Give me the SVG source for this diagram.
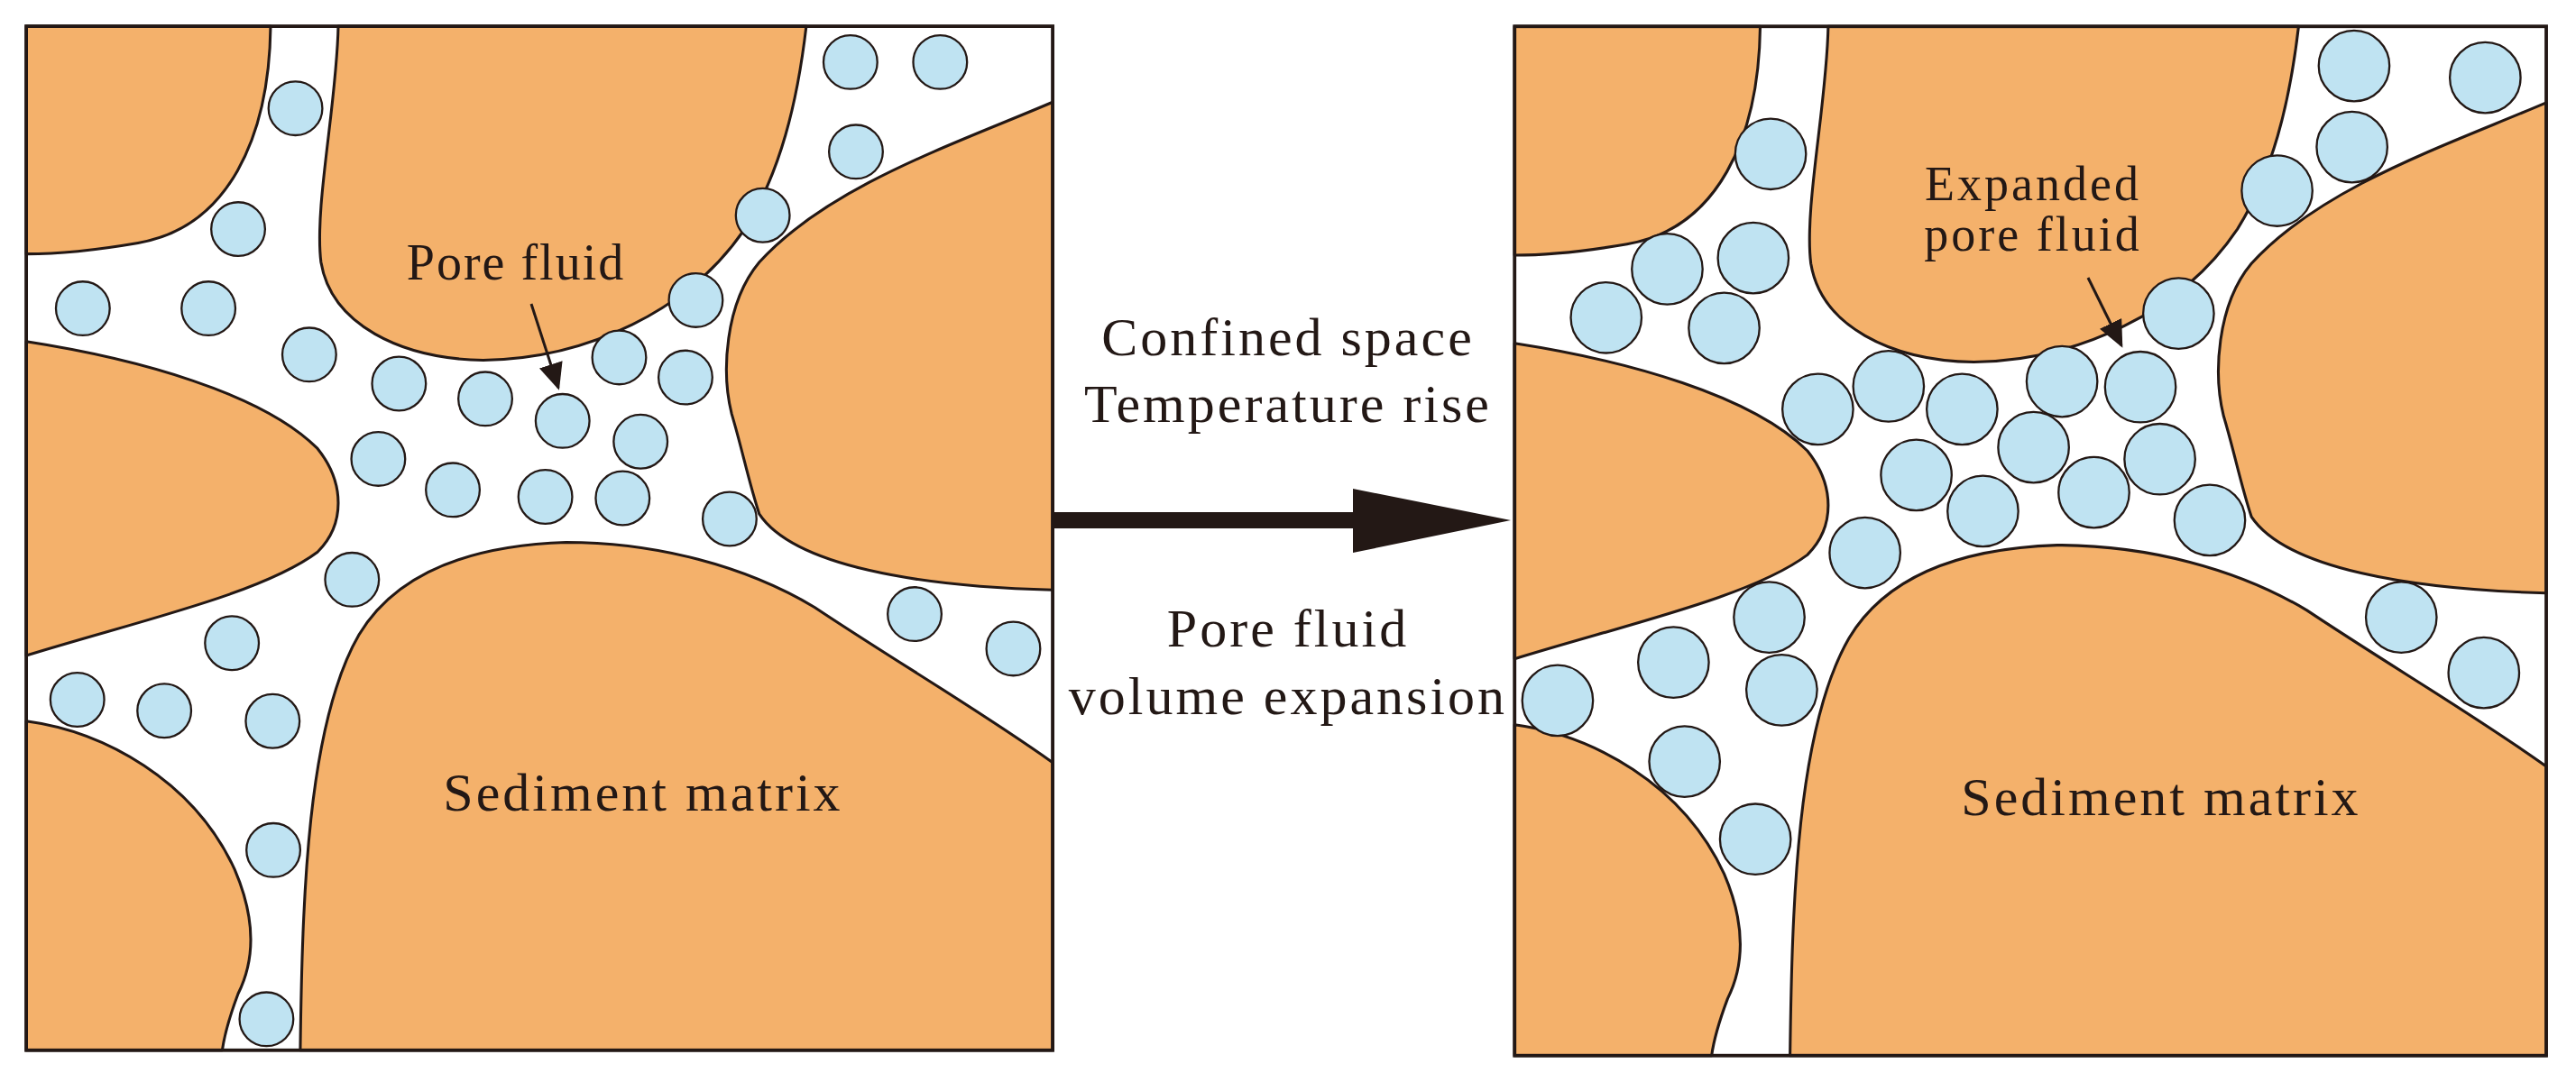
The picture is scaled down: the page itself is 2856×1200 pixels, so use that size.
<svg xmlns="http://www.w3.org/2000/svg" xmlns:xlink="http://www.w3.org/1999/xlink" width="2856" height="1200" viewBox="0 0 2856 1200">
<style>
.g{fill:#F4B16B;stroke:#231815;stroke-width:4;stroke-linejoin:round}
.c{fill:#BFE3F2;stroke:#231815;stroke-width:3}
.t{font-family:"Liberation Serif",serif;font-size:60px;letter-spacing:3px;fill:#231815;text-anchor:middle}
</style>
<defs>
<marker id="ah" markerWidth="10" markerHeight="9" refX="9" refY="4.5" orient="auto" markerUnits="strokeWidth"><path d="M0,0 L10,4.5 L0,9 Z" fill="#231815"/></marker>
<g id="grains">
<path class="g" d="M38,38 L392,38 C390,200 330,330 200,352 C130,364 80,368 38,368 Z"/>
<path class="g" d="M490,38 C488,150 455,300 465,380 C480,470 580,520 700,522 C850,520 1000,450 1080,330 C1130,250 1155,150 1168,38 Z"/>
<path class="g" d="M1525,148 C1380,210 1200,270 1100,380 C1050,440 1045,540 1060,600 C1075,650 1085,700 1100,745 C1150,820 1330,850 1525,855 Z"/>
<path class="g" d="M38,495 C200,520 380,570 460,650 C500,700 500,760 460,800 C380,860 200,900 38,950 Z"/>
<path class="g" d="M435,1522 C438,1300 445,1050 520,920 C580,820 700,790 820,786 C950,786 1080,820 1180,880 C1300,960 1420,1030 1525,1105 L1525,1522 Z"/>
<path class="g" d="M38,1045 C150,1060 280,1130 340,1260 C370,1330 370,1390 345,1440 C330,1480 325,1500 322,1522 L38,1522 Z"/>
<rect x="38" y="38" width="1487" height="1484" fill="none" stroke="#231815" stroke-width="5"/>
</g>
</defs>
<g id="left-panel" transform="scale(0.7653)">
<use xlink:href="#grains"/>
<g id="left-fluid">
<circle class="c" r="39" cx="428" cy="157"/><circle class="c" r="39" cx="345" cy="332"/><circle class="c" r="39" cx="120" cy="447"/><circle class="c" r="39" cx="302" cy="447"/><circle class="c" r="39" cx="448" cy="514"/><circle class="c" r="39" cx="578" cy="556"/><circle class="c" r="39" cx="703" cy="578"/><circle class="c" r="39" cx="815" cy="610"/><circle class="c" r="39" cx="897" cy="518"/><circle class="c" r="39" cx="993" cy="547"/><circle class="c" r="39" cx="1008" cy="435"/><circle class="c" r="39" cx="1105" cy="312"/><circle class="c" r="39" cx="1240" cy="220"/><circle class="c" r="39" cx="1232" cy="90"/><circle class="c" r="39" cx="1362" cy="90"/><circle class="c" r="39" cx="928" cy="640"/><circle class="c" r="39" cx="548" cy="665"/><circle class="c" r="39" cx="656" cy="710"/><circle class="c" r="39" cx="790" cy="720"/><circle class="c" r="39" cx="902" cy="722"/><circle class="c" r="39" cx="1057" cy="752"/><circle class="c" r="39" cx="510" cy="840"/><circle class="c" r="39" cx="336" cy="932"/><circle class="c" r="39" cx="112" cy="1014"/><circle class="c" r="39" cx="238" cy="1030"/><circle class="c" r="39" cx="395" cy="1045"/><circle class="c" r="39" cx="1325" cy="890"/><circle class="c" r="39" cx="1468" cy="940"/><circle class="c" r="39" cx="396" cy="1232"/><circle class="c" r="39" cx="386" cy="1477"/>
</g>
</g>
<g id="right-panel" transform="translate(1650,0) scale(0.7692)">
<use xlink:href="#grains"/>
<g id="right-fluid">
<circle class="c" r="51" cx="407" cy="222"/><circle class="c" r="51" cx="382" cy="372"/><circle class="c" r="51" cx="258" cy="388"/><circle class="c" r="51" cx="170" cy="458"/><circle class="c" r="51" cx="340" cy="473"/><circle class="c" r="51" cx="475" cy="590"/><circle class="c" r="51" cx="577" cy="557"/><circle class="c" r="51" cx="683" cy="590"/><circle class="c" r="51" cx="827" cy="550"/><circle class="c" r="51" cx="940" cy="558"/><circle class="c" r="51" cx="995" cy="452"/><circle class="c" r="51" cx="1137" cy="275"/><circle class="c" r="51" cx="1245" cy="212"/><circle class="c" r="51" cx="1248" cy="95"/><circle class="c" r="51" cx="1437" cy="112"/><circle class="c" r="51" cx="786" cy="645"/><circle class="c" r="51" cx="968" cy="662"/><circle class="c" r="51" cx="617" cy="685"/><circle class="c" r="51" cx="873" cy="710"/><circle class="c" r="51" cx="713" cy="737"/><circle class="c" r="51" cx="1040" cy="750"/><circle class="c" r="51" cx="543" cy="797"/><circle class="c" r="51" cx="405" cy="890"/><circle class="c" r="51" cx="267" cy="955"/><circle class="c" r="51" cx="423" cy="995"/><circle class="c" r="51" cx="100" cy="1010"/><circle class="c" r="51" cx="283" cy="1098"/><circle class="c" r="51" cx="385" cy="1210"/><circle class="c" r="51" cx="1316" cy="890"/><circle class="c" r="51" cx="1435" cy="970"/>
</g>
</g>
<g id="connectors">
<line x1="589" y1="337" x2="619" y2="430" stroke="#231815" stroke-width="3" marker-end="url(#ah)"/>
<line x1="2315" y1="308" x2="2352" y2="383" stroke="#231815" stroke-width="3" marker-end="url(#ah)"/>
<rect x="1167" y="568" width="340" height="18" fill="#231815"/>
<path d="M1500,542 L1675,577 L1500,613 Z" fill="#231815"/>
</g>
<g id="labels">
<text class="t" x="572" y="310" style="font-size:56px;letter-spacing:2px">Pore fluid</text>
<text class="t" x="713" y="899">Sediment matrix</text>
<text class="t" x="2254" y="222" style="font-size:54px;letter-spacing:3px">Expanded</text>
<text class="t" x="2254" y="278" style="font-size:54px;letter-spacing:3px">pore fluid</text>
<text class="t" x="2396" y="904">Sediment matrix</text>
<text class="t" x="1428" y="394">Confined space</text>
<text class="t" x="1428" y="468">Temperature rise</text>
<text class="t" x="1428" y="717">Pore fluid</text>
<text class="t" x="1428" y="792">volume expansion</text>
</g>
</svg>
